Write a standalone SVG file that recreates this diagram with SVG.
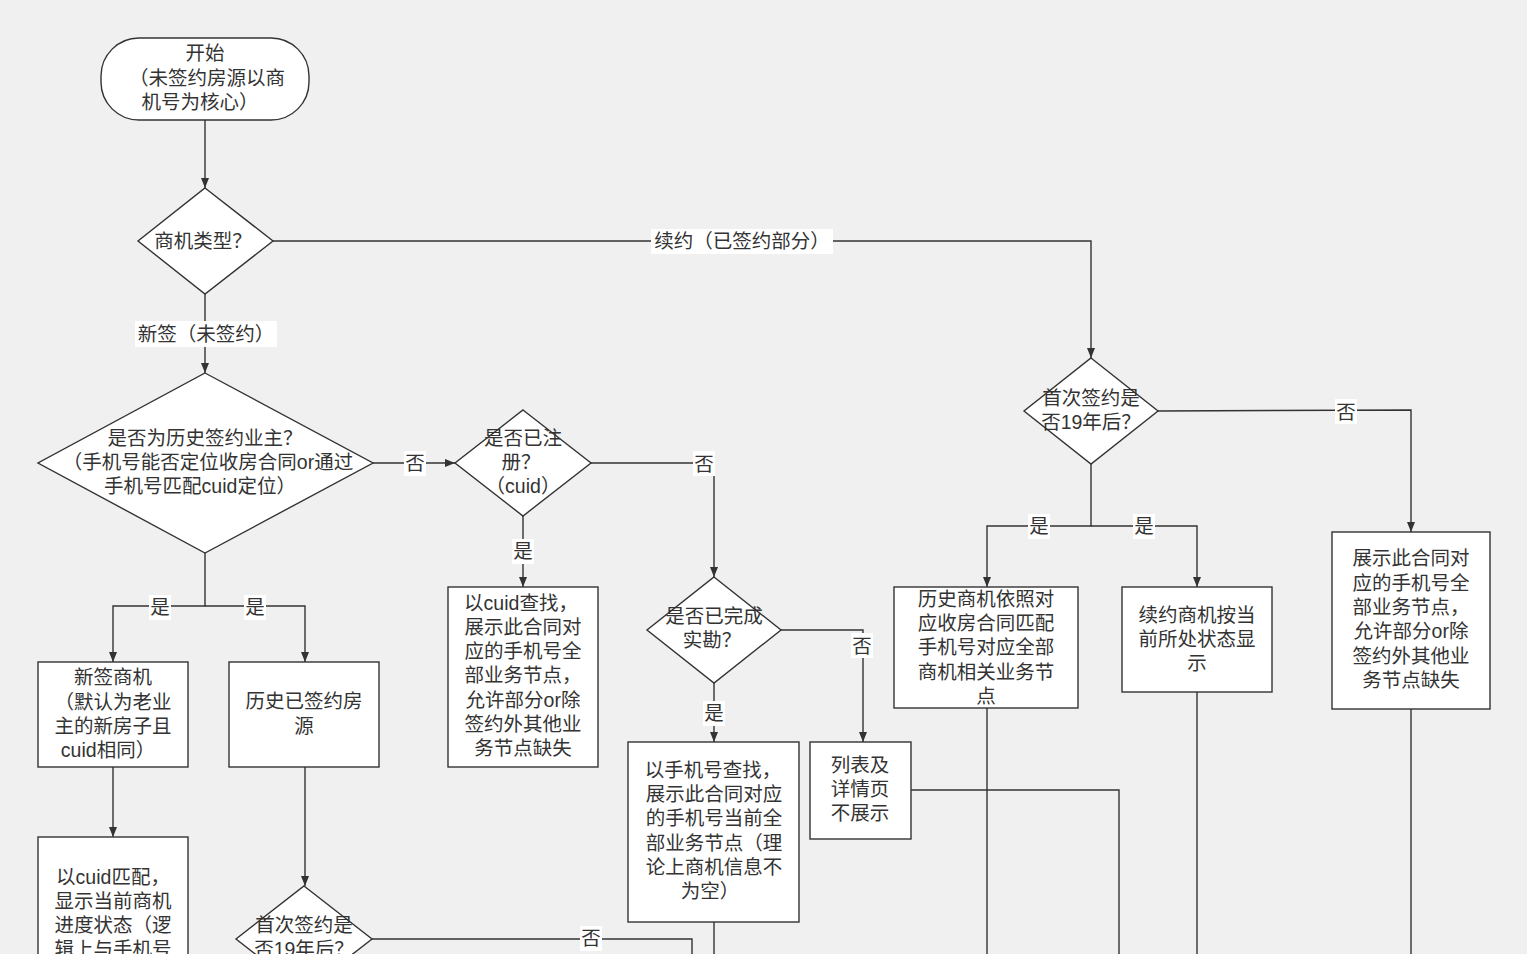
<svg xmlns="http://www.w3.org/2000/svg" width="1527" height="954" viewBox="0 0 1527 954">
<style>
.bg{fill:#f0f0f0}
.n{fill:#ffffff;stroke:#333333;stroke-width:1.4}
.t{font-family:"Liberation Sans","Noto Sans CJK SC",sans-serif;font-size:19.5px;fill:#333333;text-anchor:middle;dominant-baseline:central;text-spacing-trim:space-all}
.e{fill:none;stroke:#333333;stroke-width:1.4}
.lb{fill:#ffffff}
</style>
<defs>
<marker id="ah" viewBox="0 0 10 10" refX="10" refY="5" markerWidth="10" markerHeight="10" markerUnits="userSpaceOnUse" orient="auto">
<path d="M0,1 L10,5 L0,9 Z" fill="#333333"/>
</marker>
</defs>
<rect class="bg" x="0" y="0" width="1527" height="954"/>

<g id="connectors">
<path class="e" d="M205,120 V188" marker-end="url(#ah)"/>
<path class="e" d="M273,241 H1091 V358" marker-end="url(#ah)"/>
<path class="e" d="M205,294 V373" marker-end="url(#ah)"/>
<path class="e" d="M373,463 H455" marker-end="url(#ah)"/>
<path class="e" d="M523,516 V587" marker-end="url(#ah)"/>
<path class="e" d="M591,463 H714 V577" marker-end="url(#ah)"/>
<path class="e" d="M714,683 V742" marker-end="url(#ah)"/>
<path class="e" d="M781,630 H863 V742" marker-end="url(#ah)"/>
<path class="e" d="M911,790 H1119 V954"/>
<path class="e" d="M714,922 V954"/>
<path class="e" d="M205,553 V606 H113 V662" marker-end="url(#ah)"/>
<path class="e" d="M205,606 H305 V662" marker-end="url(#ah)"/>
<path class="e" d="M113,767 V837" marker-end="url(#ah)"/>
<path class="e" d="M305,767 V886" marker-end="url(#ah)"/>
<path class="e" d="M372,939 H692 V954"/>
<path class="e" d="M1158,411 L1411,410 V532" marker-end="url(#ah)"/>
<path class="e" d="M1091,464 V526 H987 V587" marker-end="url(#ah)"/>
<path class="e" d="M1091,526 H1197 V587" marker-end="url(#ah)"/>
<path class="e" d="M987,708 V954"/>
<path class="e" d="M1197,692 V954"/>
<path class="e" d="M1411,709 V954"/>

<rect class="lb" x="651" y="229" width="182" height="25"/>
<text class="t" x="742" y="241">续约（已签约部分）</text>
<rect class="lb" x="135" y="321" width="142" height="26"/>
<text class="t" x="206" y="334">新签（未签约）</text>
<rect class="lb" x="404" y="451" width="22" height="25"/>
<text class="t" x="415" y="463">否</text>
<rect class="lb" x="512" y="539" width="22" height="25"/>
<text class="t" x="523" y="551">是</text>
<rect class="lb" x="693" y="451" width="22" height="25"/>
<text class="t" x="704" y="464">否</text>
<rect class="lb" x="703" y="701" width="22" height="25"/>
<text class="t" x="714" y="713">是</text>
<rect class="lb" x="851" y="633" width="22" height="25"/>
<text class="t" x="862" y="646">否</text>
<rect class="lb" x="149" y="595" width="22" height="25"/>
<text class="t" x="160" y="607">是</text>
<rect class="lb" x="244" y="595" width="22" height="25"/>
<text class="t" x="255" y="607">是</text>
<rect class="lb" x="580" y="926" width="22" height="25"/>
<text class="t" x="591" y="938">否</text>
<rect class="lb" x="1335" y="399" width="22" height="25"/>
<text class="t" x="1346" y="412">否</text>
<rect class="lb" x="1028" y="514" width="22" height="25"/>
<text class="t" x="1039" y="526">是</text>
<rect class="lb" x="1133" y="514" width="22" height="25"/>
<text class="t" x="1144" y="526">是</text>
</g>

<g id="start">
<rect class="n" x="101" y="38" width="208" height="82" rx="38" ry="38"/>
<text class="t" x="205" y="53">开始</text>
<text class="t" x="207" y="78">（未签约房源以商</text>
<text class="t" x="200" y="102">机号为核心）</text>
</g>

<g id="d-type">
<polygon class="n" points="205,188 273,241 205,294 138,241"/>
<text class="t" x="203" y="241">商机类型？</text>
</g>

<g id="d-history">
<polygon class="n" points="205,373 373,463 205,553 38,463"/>
<text class="t" x="205" y="438">是否为历史签约业主？</text>
<text class="t" x="208" y="462">（手机号能否定位收房合同or通过</text>
<text class="t" x="200" y="486">手机号匹配cuid定位）</text>
</g>

<g id="d-register">
<polygon class="n" points="523,410 591,463 523,516 455,463"/>
<text class="t" x="523" y="438">是否已注</text>
<text class="t" x="521" y="462">册？</text>
<text class="t" x="523" y="486">（cuid）</text>
</g>

<g id="b-cuid-find">
<rect class="n" x="448" y="587" width="150" height="180"/>
<text class="t" x="521" y="603">以cuid查找，</text>
<text class="t" x="523" y="627">展示此合同对</text>
<text class="t" x="523" y="651">应的手机号全</text>
<text class="t" x="523" y="675">部业务节点，</text>
<text class="t" x="523" y="700">允许部分or除</text>
<text class="t" x="523" y="724">签约外其他业</text>
<text class="t" x="523" y="748">务节点缺失</text>
</g>

<g id="d-survey">
<polygon class="n" points="714,577 781,630 714,683 647,630"/>
<text class="t" x="714" y="616">是否已完成</text>
<text class="t" x="712" y="640">实勘？</text>
</g>

<g id="b-phone-find">
<rect class="n" x="628" y="742" width="171" height="180"/>
<text class="t" x="713" y="770">以手机号查找，</text>
<text class="t" x="714" y="794">展示此合同对应</text>
<text class="t" x="714" y="818">的手机号当前全</text>
<text class="t" x="714" y="843">部业务节点（理</text>
<text class="t" x="714" y="867">论上商机信息不</text>
<text class="t" x="710" y="891">为空）</text>
</g>

<g id="b-hide">
<rect class="n" x="810" y="742" width="101" height="97"/>
<text class="t" x="860" y="765">列表及</text>
<text class="t" x="860" y="789">详情页</text>
<text class="t" x="860" y="813">不展示</text>
</g>

<g id="b-new">
<rect class="n" x="38" y="662" width="150" height="105"/>
<text class="t" x="113" y="677">新签商机</text>
<text class="t" x="113" y="702">（默认为老业</text>
<text class="t" x="113" y="726">主的新房子且</text>
<text class="t" x="108" y="750">cuid相同）</text>
</g>

<g id="b-hist-signed">
<rect class="n" x="229" y="662" width="150" height="105"/>
<text class="t" x="304" y="701">历史已签约房</text>
<text class="t" x="304" y="726">源</text>
</g>

<g id="b-cuid-match">
<rect class="n" x="38" y="837" width="150" height="140"/>
<text class="t" x="113" y="877">以cuid匹配，</text>
<text class="t" x="113" y="901">显示当前商机</text>
<text class="t" x="113" y="925">进度状态（逻</text>
<text class="t" x="113" y="949">辑上与手机号</text>
</g>

<g id="d-19-left">
<polygon class="n" points="304,886 372,939 304,992 236,939"/>
<text class="t" x="304" y="925">首次签约是</text>
<text class="t" x="304" y="949">否19年后？</text>
</g>

<g id="d-19-right">
<polygon class="n" points="1091,358 1158,411 1091,464 1024,411"/>
<text class="t" x="1091" y="398">首次签约是</text>
<text class="t" x="1091" y="422">否19年后？</text>
</g>

<g id="b-hist-biz">
<rect class="n" x="894" y="587" width="184" height="121"/>
<text class="t" x="986" y="599">历史商机依照对</text>
<text class="t" x="986" y="623">应收房合同匹配</text>
<text class="t" x="986" y="647">手机号对应全部</text>
<text class="t" x="986" y="672">商机相关业务节</text>
<text class="t" x="986" y="696">点</text>
</g>

<g id="b-renew">
<rect class="n" x="1122" y="587" width="150" height="105"/>
<text class="t" x="1197" y="615">续约商机按当</text>
<text class="t" x="1197" y="639">前所处状态显</text>
<text class="t" x="1197" y="663">示</text>
</g>

<g id="b-show-all">
<rect class="n" x="1332" y="532" width="158" height="177"/>
<text class="t" x="1411" y="558">展示此合同对</text>
<text class="t" x="1411" y="583">应的手机号全</text>
<text class="t" x="1411" y="607">部业务节点，</text>
<text class="t" x="1411" y="631">允许部分or除</text>
<text class="t" x="1411" y="656">签约外其他业</text>
<text class="t" x="1411" y="680">务节点缺失</text>
</g>
</svg>
